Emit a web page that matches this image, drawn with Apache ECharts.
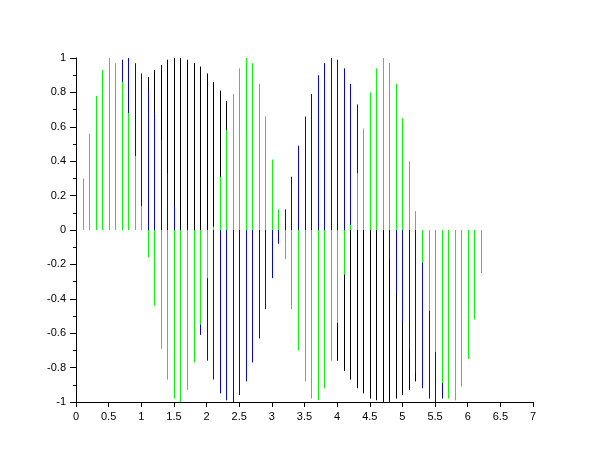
<!DOCTYPE html>
<html>
<head>
<meta charset="utf-8">
<script src="https://cdn.jsdelivr.net/npm/echarts@6/dist/echarts.min.js"></script>
<style>html,body{margin:0;padding:0;background:#fff}#c{width:610px;height:460px}</style>
</head>
<body>
<div id="c"></div>
<script>
// x positions 0 .. 6.2 step 0.1
var xValues = [0,0.1,0.2,0.3,0.4,0.5,0.6,0.7,0.8,0.9,1,1.1,1.2,1.3,1.4,1.5,1.6,1.7,1.8,1.9,2,2.1,2.2,2.3,2.4,2.5,2.6,2.7,2.8,2.9,3,3.1,3.2,3.3,3.4,3.5,3.6,3.7,3.8,3.9,4,4.1,4.2,4.3,4.4,4.5,4.6,4.7,4.8,4.9,5,5.1,5.2,5.3,5.4,5.5,5.6,5.7,5.8,5.9,6,6.1,6.2];
var blackValues = [0,0.10,0.20,0.30,0.39,0.48,0.56,0.64,0.72,0.78,0.84,0.89,0.93,0.96,0.99,1.00,1.00,0.99,0.97,0.95,0.91,0.86,0.81,0.75,0.68,0.60,0.52,0.43,0.33,0.24,0.14,0.04,-0.06,-0.16,-0.26,-0.35,-0.44,-0.53,-0.61,-0.69,-0.76,-0.82,-0.87,-0.92,-0.95,-0.98,-0.99,-1.00,-1.00,-0.98,-0.96,-0.93,-0.88,-0.83,-0.77,-0.71,-0.63,-0.55,-0.46,-0.37,-0.28,-0.18,-0.08];
var blueValues = [0,0.20,0.39,0.56,0.72,0.84,0.93,0.99,1.00,0.97,0.91,0.81,0.68,0.52,0.33,0.14,-0.06,-0.26,-0.44,-0.61,-0.76,-0.87,-0.95,-0.99,-1.00,-0.96,-0.88,-0.77,-0.63,-0.46,-0.28,-0.08,0.12,0.31,0.49,0.66,0.79,0.90,0.97,1.00,0.99,0.94,0.85,0.73,0.58,0.41,0.22,0.02,-0.17,-0.37,-0.54,-0.70,-0.83,-0.92,-0.98,-1.00,-0.98,-0.92,-0.83,-0.69,-0.54,-0.36,-0.17];
var greenValues = [0,0.30,0.56,0.78,0.93,1.00,0.97,0.86,0.68,0.43,0.14,-0.16,-0.44,-0.69,-0.87,-0.98,-1.00,-0.93,-0.77,-0.55,-0.28,0.02,0.31,0.58,0.79,0.94,1.00,0.97,0.85,0.66,0.41,0.12,-0.17,-0.46,-0.70,-0.88,-0.98,-0.99,-0.92,-0.76,-0.54,-0.26,0.03,0.33,0.59,0.80,0.94,1.00,0.97,0.85,0.65,0.40,0.11,-0.19,-0.47,-0.71,-0.89,-0.98,-0.99,-0.91,-0.75,-0.52,-0.25];
var xTicks = [0,0.5,1,1.5,2,2.5,3,3.5,4,4.5,5,5.5,6,6.5,7];
var yTicks = [-1,-0.8,-0.6,-0.4,-0.2,0,0.2,0.4,0.6,0.8,1];

function pairs(vals){ return xValues.map(function(x,i){ return [x, vals[i]]; }); }
function stemSeries(name, vals, color){
  return {
    name: name, type: 'custom', data: pairs(vals), clip: false,
    renderItem: function(params, api){
      var p0 = api.coord([api.value(0), 0]);
      var p1 = api.coord([api.value(0), api.value(1)]);
      var x = Math.round(p0[0]) + 0.5;
      return { type: 'line', shape: {x1: x, y1: p0[1], x2: x, y2: p1[1]},
               style: {stroke: color, lineWidth: 1}, silent: true };
    }
  };
}
var font = 'Liberation Sans, Arial, sans-serif';
var chart = echarts.init(document.getElementById('c'));
chart.setOption({
  animation: false,
  backgroundColor: '#ffffff',
  grid: {left: 76, right: 77, top: 58, bottom: 58, containLabel: false},
  xAxis: {
    type: 'value', min: xTicks[0], max: xTicks[xTicks.length-1], interval: 0.5,
    position: 'bottom',
    axisLine: {show: true, onZero: false, lineStyle: {color: '#000', width: 1}},
    axisTick: {show: true, inside: false, length: 5, lineStyle: {color: '#000'}},
    axisLabel: {color: '#000', fontSize: 11, fontFamily: font, margin: 9,
      formatter: function(v){ return String(v); }},
    splitLine: {show: false}
  },
  yAxis: {
    type: 'value', min: yTicks[0], max: yTicks[yTicks.length-1], interval: 0.2,
    axisLine: {show: true, onZero: false, lineStyle: {color: '#000', width: 1}},
    axisTick: {show: true, inside: false, length: 6, lineStyle: {color: '#000'}},
    minorTick: {show: true, splitNumber: 2, length: 3, lineStyle: {color: '#000'}},
    axisLabel: {color: '#000', fontSize: 11, fontFamily: font, margin: 10,
      formatter: function(v){ return String(Math.round(v*10)/10); }},
    splitLine: {show: false}
  },
  series: [
    stemSeries('sin(x)', blackValues, '#000000'),
    stemSeries('sin(2x)', blueValues, '#0000ff'),
    stemSeries('sin(3x)', greenValues, '#00ff00')
  ]
});
</script>
</body>
</html>
